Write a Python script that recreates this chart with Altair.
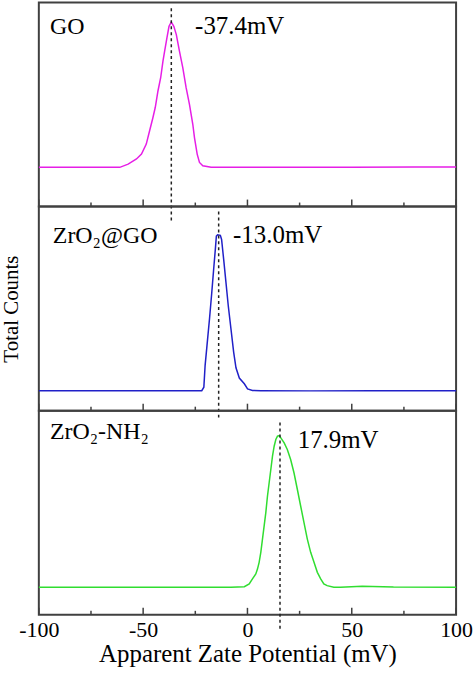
import altair as alt
import pandas as pd

FONT = "Liberation Serif"

# ---- data ----
go_x = [-100, -80, -61.2, -57.2, -53.2, -50.8, -48.5, -46.9, -45.3, -44.2, -42.9, -41.6, -40.5,
        -39.7, -38.6, -37.6, -36.5, -35.3, -34.1, -32.6, -31.0, -29.4, -27.8, -26.2, -25.4, -24.1,
        -23.0, -21.4, -17.4, 0, 20, 50, 80, 100]
go_y = [19.2, 19.2, 19.2, 20.8, 23.3, 25.7, 30.6, 37.1, 43.6, 48.5, 56.6, 63.1, 71.2,
        76.1, 82.6, 88.3, 90.4, 88.3, 84.2, 76.1, 68.0, 58.2, 50.1, 40.3, 33.8, 25.7,
        21.6, 20.0, 19.2, 19.2, 19.3, 19.3, 19.4, 19.4]

zr_x = [-100, -60, -30, -21.9, -20.9, -20.3, -19.4, -18.2, -17.1, -16.2, -15.4, -14.9, -14.3,
        -13.0, -12.4, -11.4, -10.3, -9.2, -7.9, -6.6, -5.5, -3.9, -1.5, 0.05, 2.4, 6.4, 30, 60, 100]
zr_y = [9.8, 9.8, 9.8, 9.8, 11.5, 22.1, 31.9, 44.9, 57.9, 69.3, 79.0, 85.5, 86.2,
        85.9, 83.9, 74.1, 62.8, 51.4, 40.0, 28.6, 21.0, 16.0, 13.2, 10.7, 9.9, 9.8, 9.7, 9.8, 9.8]

nh_x = [-100, -50, -7.9, -1.5, 0.85, 2.4, 4.0, 4.8, 5.6, 6.4, 7.2, 8.0, 8.8, 9.6, 10.4, 11.2,
        12.0, 12.8, 13.6, 14.4, 15.2, 16.0, 17.6, 19.1, 20.7, 22.3, 23.9, 25.5, 27.1, 28.7, 30.3,
        31.9, 33.5, 35.1, 36.6, 38.2, 41.4, 44.6, 55, 70, 100]
nh_y = [13.5, 13.5, 13.5, 13.8, 15.1, 17.6, 20.0, 22.4, 25.7, 30.6, 37.1, 43.6, 50.1, 58.2, 64.7, 71.2,
        77.7, 82.6, 85.9, 87.5, 87.8, 86.7, 84.2, 81.0, 76.1, 69.6, 61.5, 53.3, 45.2, 37.1, 30.6,
        25.7, 20.8, 17.6, 15.1, 14.3, 13.5, 13.5, 14.0, 13.6, 13.5]

names = ["GO", "ZrO₂@GO", "ZrO₂-NH₂"]
colors = ["#e61ee6", "#2020c8", "#30dd30"]
name_x = [-94.7, -93.3, -94.7]
name_y = [84.4, 82.0, 86.3]

values_text = ["-37.4mV", "-13.0mV", "17.9mV"]
value_x = [-25.1, -6.9, 24.1]
value_y = [84.4, 82.0, 81.5]

peak_line_x = [-36.5, -13.8, 15.6]
peak_line_lo = [-6.8, -3.4, -6.8]
peak_line_hi = [97.1, 97.6, 95.6]

major_ticks = [-100, -50, 0, 50, 100]
minor_ticks = [-75, -25, 25, 75]

series = [(go_x, go_y), (zr_x, zr_y), (nh_x, nh_y)]

W, H = 419, 205
BORDER = "#404040"

xscale = alt.Scale(domain=[-100, 100], nice=False)
yscale = alt.Scale(domain=[0, 100], nice=False)


def panel(i):
    last = i == 2
    sx, sy = series[i]
    df = pd.DataFrame({"x": sx, "y": sy})
    if last:
        xaxis = alt.Axis(values=major_ticks, ticks=False, domain=False, grid=False,
                         labelExpr="'' + datum.value",
                         labelFont=FONT, labelFontSize=22, labelColor="black", labelPadding=5,
                         labelFlush=False, title="Apparent Zate Potential (mV)",
                         titleFont=FONT, titleFontSize=25, titleFontWeight="normal",
                         titleColor="black", titlePadding=1)
    else:
        xaxis = None
    if i == 1:
        yaxis = alt.Axis(labels=False, ticks=False, domain=False, grid=False,
                         title="Total Counts", titleFont=FONT, titleFontSize=21,
                         titleFontWeight="normal", titleColor="black", titlePadding=17)
    else:
        yaxis = None

    def X(field):
        return alt.X(field, scale=xscale) if xaxis is not None else alt.X(field, scale=xscale, axis=None)

    def Y(field):
        return alt.Y(field, scale=yscale) if yaxis is not None else alt.Y(field, scale=yscale, axis=None)

    line = alt.Chart(df).mark_line(color=colors[i], strokeWidth=1.5).encode(
        x=alt.X("x:Q", scale=xscale, axis=xaxis),
        y=alt.Y("y:Q", scale=yscale, axis=yaxis),
    )
    dash = alt.Chart(pd.DataFrame({"x": [peak_line_x[i]], "lo": [peak_line_lo[i]],
                                   "hi": [peak_line_hi[i]]})).mark_rule(
        color="#222222", strokeWidth=1.5, strokeDash=[3, 3], clip=False).encode(
        x=X("x:Q"), y=Y("lo:Q"), y2="hi:Q",
    )
    major = alt.Chart(pd.DataFrame({"x": major_ticks})).mark_rule(
        color=BORDER, strokeWidth=1.5).encode(
        x=X("x:Q"), y=alt.value(H), y2=alt.value(H - 7),
    )
    minor = alt.Chart(pd.DataFrame({"x": minor_ticks})).mark_rule(
        color=BORDER, strokeWidth=1.5).encode(
        x=X("x:Q"), y=alt.value(H), y2=alt.value(H - 4),
    )
    name = alt.Chart(pd.DataFrame({"x": [name_x[i]], "y": [name_y[i]], "t": [names[i]]})).mark_text(
        font=FONT, fontSize=24, align="left", baseline="alphabetic", color="black").encode(
        x=X("x:Q"), y=Y("y:Q"), text="t:N",
    )
    val = alt.Chart(pd.DataFrame({"x": [value_x[i]], "y": [value_y[i]], "t": [values_text[i]]})).mark_text(
        font=FONT, fontSize=25, align="left", baseline="alphabetic", color="black").encode(
        x=X("x:Q"), y=Y("y:Q"), text="t:N",
    )
    return alt.layer(line, major, minor, dash, name, val).properties(width=W, height=H)


chart = alt.vconcat(panel(0), panel(1), panel(2), spacing=0, bounds="flush").properties(
    padding={"left": 0, "top": 0, "right": 0, "bottom": 0},
    background="white",
).configure_view(stroke=BORDER, strokeWidth=2)

chart.save("out.html", embed_options={"renderer": "svg", "actions": False})
